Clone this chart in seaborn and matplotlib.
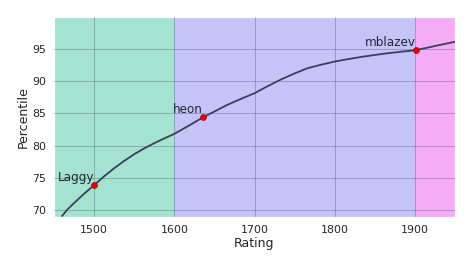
import matplotlib
matplotlib.use("Agg")
import matplotlib.pyplot as plt
import seaborn as sns
import pandas as pd

# Curve data
ratings = [1460, 1467, 1475, 1487, 1500, 1512, 1525, 1537, 1550, 1562, 1575, 1587, 1600, 1618,
           1636, 1650, 1666, 1683, 1700, 1716, 1732, 1749, 1766, 1783, 1800, 1816, 1833, 1850,
           1866, 1883, 1901, 1925, 1951]
percentiles = [69.1, 70.15, 71.1, 72.5, 73.88, 75.2, 76.5, 77.6, 78.68, 79.55, 80.39, 81.1, 81.83, 83.1,
               84.4, 85.3, 86.32, 87.25, 88.13, 89.2, 90.2, 91.15, 92.0, 92.55, 93.04, 93.4, 93.76, 94.06,
               94.33, 94.57, 94.8, 95.45, 96.13]

# Highlighted players
players = ["Laggy", "heon", "mblazev"]
player_ratings = [1500, 1636, 1901]
player_percentiles = [73.88, 84.4, 94.8]

# Bands
band_edges = [1450, 1600, 1900, 1950]
band_colors = ["#a5e3d1", "#c4c4f8", "#f5acf6"]

xticks = [1500, 1600, 1700, 1800, 1900]
yticks = [70, 75, 80, 85, 90, 95]

sns.set_theme(style="darkgrid")
fig, ax = plt.subplots(figsize=(474 / 72, 268 / 72), dpi=72)
fig.subplots_adjust(left=54 / 474, right=455 / 474, top=1 - 17.3 / 268, bottom=1 - 217.3 / 268)

for i, c in enumerate(band_colors):
    ax.axvspan(band_edges[i], band_edges[i + 1], color=c, zorder=0, lw=0)

ax.set_axisbelow(False)
ax.grid(True, color="#50507a", alpha=0.4, lw=0.9, zorder=1)

curve = pd.DataFrame({"Rating": ratings, "Percentile": percentiles})
sns.lineplot(data=curve, x="Rating", y="Percentile", ax=ax, color="#3c3c5a", lw=1.8, zorder=3)

pts = pd.DataFrame({"Rating": player_ratings, "Percentile": player_percentiles, "name": players})
sns.scatterplot(data=pts, x="Rating", y="Percentile", ax=ax, color="#e00000", edgecolor="#a00000",
                s=36, linewidth=0.6, zorder=4)
for n, xr, yp in zip(players, player_ratings, player_percentiles):
    ax.text(xr, yp + 0.2, n, ha="right", va="bottom", fontsize=12, color="#262630", zorder=5)

ax.set_xlim(1450, 1950)
ax.set_ylim(68.9, 99.9)
ax.set_xticks(xticks)
ax.set_yticks(yticks)
ax.set_xlabel("Rating", fontsize=12.5, labelpad=2.5)
ax.set_ylabel("Percentile", fontsize=12.5, labelpad=2.5)
ax.tick_params(labelsize=11, pad=1.5)

fig.savefig("out.png", dpi=72)
